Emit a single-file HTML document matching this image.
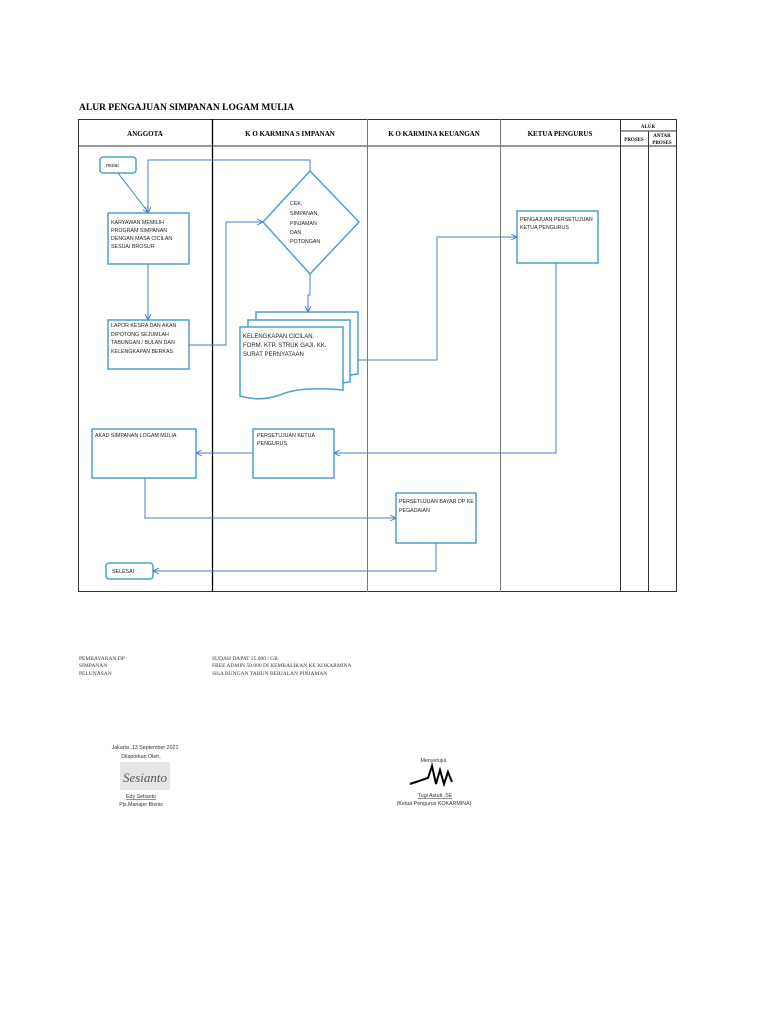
<!DOCTYPE html>
<html><head><meta charset="utf-8"><style>
html,body{margin:0;padding:0;background:#fff;}
svg{display:block}
.s{font-family:"Liberation Serif",serif;}
.b{font-family:"Liberation Sans",sans-serif;}
</style></head><body>
<svg width="768" height="1024" viewBox="0 0 768 1024" xmlns="http://www.w3.org/2000/svg">
<defs><marker id="a" markerWidth="6" markerHeight="6" refX="5" refY="3" orient="auto" markerUnits="userSpaceOnUse"><path d="M0,0 L6,3 L0,6" fill="none" stroke="#4a7fc8" stroke-width="1"/></marker></defs>
<text x="79" y="110" class="s" font-size="9.5" font-weight="bold">ALUR PENGAJUAN SIMPANAN LOGAM MULIA</text>
<g fill="none" stroke="#333" stroke-width="1">
<rect x="78.5" y="119.5" width="598" height="472"/>
<line x1="78" y1="146" x2="676" y2="146"/>
<line x1="212.5" y1="119" x2="212.5" y2="592" stroke="#000" stroke-width="1.3"/>
<line x1="367.5" y1="119" x2="367.5" y2="592" stroke="#777"/>
<line x1="500.5" y1="119" x2="500.5" y2="592" stroke="#777"/>
<line x1="620.5" y1="119" x2="620.5" y2="592"/>
<line x1="648.5" y1="131" x2="648.5" y2="592"/>
<line x1="620" y1="131" x2="676" y2="131"/>
</g>
<g class="s" font-size="7" font-weight="bold" text-anchor="middle">
<text x="145" y="136">ANGGOTA</text>
<text x="290" y="136">K O KARMINA S IMPANAN</text>
<text x="434" y="136">K O KARMINA KEUANGAN</text>
<text x="560" y="136">KETUA PENGURUS</text>
<text x="648" y="128" font-size="5">ALUR</text>
<text x="634" y="141" font-size="5">PROSES</text>
<text x="662" y="137" font-size="5">ANTAR</text>
<text x="662" y="144" font-size="5">PROSES</text>
</g>
<g fill="#fff" stroke="#4aa3c8" stroke-width="1.5">
<rect x="100" y="157" width="36" height="16" rx="3"/>
<rect x="108" y="213" width="81" height="51"/>
<rect x="108" y="320" width="81" height="49"/>
<polygon points="310,171 359,222 310,274 263,222"/>
<path d="M256,312 H358 V374 Q340,376 330,380 L256,380 Z"/>
<path d="M248,320 H350 V382 Q330,384 320,388 L248,388 Z"/>
<path d="M240,327 H343 V390 Q300,386 280,395 Q260,402 240,396 Z"/>
<rect x="92" y="429" width="104" height="49"/>
<rect x="253" y="429" width="81" height="49"/>
<rect x="517" y="211" width="81" height="52"/>
<rect x="396" y="493" width="80" height="50"/>
<rect x="106" y="563" width="47" height="16" rx="3"/>
</g>
<g fill="none" stroke="#4a7fc8" stroke-width="1" marker-end="url(#a)">
<path d="M118,173 L148,212"/>
<path d="M310,171 V160 H148 V212"/>
<path d="M148,264 V319"/>
<path d="M189,345 H226 V222 H262"/>
<path d="M310,274 V295 H308 V311"/>
<path d="M358,360 H437 V237 H516"/>
<path d="M556,263 V453 H335"/>
<path d="M253,453 H197"/>
<path d="M145,478 V518 H395"/>
<path d="M436,543 V571 H154"/>
</g>
<g class="b" font-size="5.3" fill="#222">
<text x="106" y="167">mulai</text>
<text x="111" y="224">KARYAWAN MEMILIH</text>
<text x="111" y="232">PROGRAM SIMPANAN</text>
<text x="111" y="240">DENGAN MASA CICILAN</text>
<text x="111" y="248">SESUAI BROSUR</text>
<text x="111" y="327">LAPOR KESRA DAN AKAN</text>
<text x="111" y="336">DIPOTONG SEJUMLAH</text>
<text x="111" y="344">TABUNGAN / BULAN DAN</text>
<text x="111" y="353">KELENGKAPAN BERKAS</text>
<text x="290" y="205">CEK,</text>
<text x="290" y="215">SIMPANAN,</text>
<text x="290" y="225">PINJAMAN</text>
<text x="290" y="234">DAN</text>
<text x="290" y="243">POTONGAN</text>
<text x="243" y="338" font-size="6">KELENGKAPAN CICILAN.</text>
<text x="243" y="347" font-size="6">FORM. KTP. STRUK GAJI. KK.</text>
<text x="243" y="356" font-size="6">SURAT PERNYATAAN</text>
<text x="95" y="437">AKAD SIMPANAN LOGAM MULIA</text>
<text x="257" y="437">PERSETUJUAN KETUA</text>
<text x="257" y="445">PENGURUS</text>
<text x="520" y="221">PENGAJUAN PERSETUJUAN</text>
<text x="520" y="229">KETUA PENGURUS</text>
<text x="399" y="503">PERSETUJUAN BAYAR DP KE</text>
<text x="399" y="512">PEGADAIAN</text>
<text x="112" y="573">SELESAI</text>
</g>
<g class="s" font-size="5.5" fill="#333">
<text x="79" y="660">PEMBAYARAN DP :</text>
<text x="79" y="667">SIMPANAN</text>
<text x="79" y="675">PELUNASAN</text>
<text x="212" y="660">SUDAH DAPAT 25.000 / GR</text>
<text x="212" y="667">FREE ADMIN  50.000 DI KEMBALIKAN KE KOKARMINA</text>
<text x="212" y="675">SISA  BUNGAN TAHUN BERJALAN PINJAMAN</text>
</g>
<g class="b" font-size="5.3" fill="#333" text-anchor="middle">
<text x="145" y="749">Jakarta ,13 September 2021</text>
<text x="141" y="758">Dilaporkan Oleh,</text>
<rect x="120" y="762" width="50" height="28" fill="#e6e6e6"/>
<text x="145" y="782" font-family="Liberation Serif" font-style="italic" font-size="13" fill="#555">Sesianto</text>
<text x="141" y="798" text-decoration="underline">Edy Setianto</text>
<text x="141" y="806">Pjs.Manajer Bisnis</text>
<text x="434" y="762">Menyetujui,</text>
<path d="M410,784 L428,778 L432,766 L436,784 L440,770 L444,784 L448,772 L452,782" fill="none" stroke="#000" stroke-width="2"/>
<text x="435" y="797" text-decoration="underline">Tugi Astuti ,SE</text>
<text x="434" y="805">(Ketua Pengurus KOKARMINA)</text>
</g>
</svg>
</body></html>
